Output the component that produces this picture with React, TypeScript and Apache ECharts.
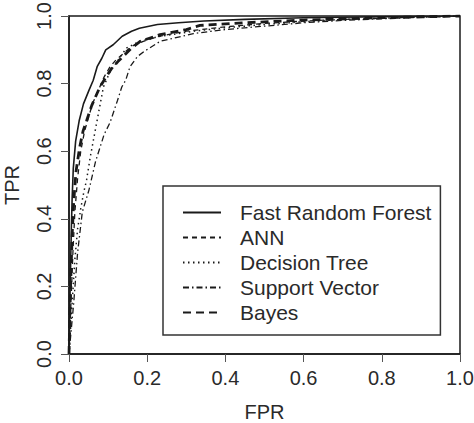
import React, { useEffect, useRef } from "react";
import * as echarts from "echarts";

const seriesNames = ["Fast Random Forest", "ANN", "Decision Tree", "Support Vector", "Bayes"];

const frfFpr = [0, 0.003, 0.006, 0.008, 0.011, 0.017, 0.026, 0.037, 0.051, 0.062, 0.072, 0.084, 0.094, 0.113, 0.136, 0.16, 0.18, 0.226, 0.28, 0.345, 0.45, 0.6, 0.8, 1];
const frfTpr = [0, 0.2, 0.37, 0.46, 0.55, 0.63, 0.69, 0.74, 0.78, 0.81, 0.85, 0.875, 0.9, 0.915, 0.94, 0.955, 0.964, 0.975, 0.98, 0.985, 0.99, 0.995, 0.998, 1];

const annFpr = [0, 0.005, 0.01, 0.015, 0.022, 0.03, 0.04, 0.05, 0.06, 0.075, 0.09, 0.105, 0.12, 0.14, 0.16, 0.19, 0.23, 0.3, 0.4, 0.5, 0.6, 0.7, 0.85, 1];
const annTpr = [0, 0.15, 0.3, 0.42, 0.52, 0.6, 0.66, 0.7, 0.74, 0.78, 0.82, 0.85, 0.87, 0.89, 0.91, 0.925, 0.94, 0.955, 0.968, 0.978, 0.985, 0.99, 0.995, 1];

const dtFpr = [0, 0.008, 0.015, 0.022, 0.03, 0.038, 0.045, 0.054, 0.062, 0.075, 0.088, 0.105, 0.126, 0.147, 0.18, 0.233, 0.318, 0.4, 0.5, 0.6, 0.7, 0.85, 1];
const dtTpr = [0, 0.15, 0.28, 0.37, 0.43, 0.48, 0.515, 0.58, 0.63, 0.71, 0.79, 0.835, 0.87, 0.905, 0.925, 0.94, 0.955, 0.965, 0.975, 0.983, 0.99, 0.995, 1];

const svFpr = [0, 0.012, 0.022, 0.034, 0.051, 0.068, 0.079, 0.09, 0.105, 0.124, 0.135, 0.145, 0.156, 0.175, 0.192, 0.233, 0.318, 0.4, 0.5, 0.6, 0.7, 0.85, 1];
const svTpr = [0, 0.15, 0.3, 0.42, 0.485, 0.57, 0.61, 0.65, 0.685, 0.75, 0.79, 0.81, 0.85, 0.88, 0.895, 0.925, 0.948, 0.96, 0.97, 0.98, 0.987, 0.994, 1];

const bayesFpr = [0, 0.004, 0.008, 0.012, 0.018, 0.027, 0.036, 0.045, 0.058, 0.079, 0.095, 0.109, 0.125, 0.138, 0.16, 0.182, 0.233, 0.3, 0.335, 0.45, 0.6, 0.8, 1];
const bayesTpr = [0, 0.2, 0.35, 0.45, 0.54, 0.61, 0.66, 0.69, 0.735, 0.79, 0.82, 0.845, 0.865, 0.88, 0.905, 0.925, 0.945, 0.96, 0.972, 0.98, 0.988, 0.995, 1];

const tickLabels = ["0.0", "0.2", "0.4", "0.6", "0.8", "1.0"];

const zip = (xs: number[], ys: number[]) => xs.map((x, i) => [x, ys[i]]);

export default function App() {
  const ref = useRef<HTMLDivElement>(null);
  useEffect(() => {
    if (!ref.current) return;
    const chart = echarts.init(ref.current, undefined, { renderer: "svg" });
    const font = "Liberation Sans, Arial, sans-serif";
    const ink = "#1a1a1a";
    const textCol = "#2a2a2a";
    const styles: any[] = [
      { width: 1.6, type: "solid" },
      { width: 1.3, type: [5, 4] },
      { width: 1.5, type: [1.5, 3.5] },
      { width: 1.3, type: [6, 3, 1.5, 3] },
      { width: 2.8, type: [8, 5] },
    ];
    const data = [
      zip(frfFpr, frfTpr),
      zip(annFpr, annTpr),
      zip(dtFpr, dtTpr),
      zip(svFpr, svTpr),
      zip(bayesFpr, bayesTpr),
    ];
    const fmt = (v: number) => tickLabels[Math.round(v * 5)] ?? "";
    chart.setOption({
      animation: false,
      backgroundColor: "#fff",
      grid: {
        left: 69,
        right: 14,
        top: 16,
        bottom: 69,
        show: true,
        borderColor: ink,
        borderWidth: 1.5,
        containLabel: false,
        outerBoundsMode: "none",
      },
      legend: {
        orient: "vertical",
        left: 163,
        top: 186,
        data: seriesNames,
        itemWidth: 38,
        itemHeight: 14,
        itemGap: 4,
        padding: [16, 9, 12, 19],
        borderColor: "#333",
        borderWidth: 1.5,
        itemStyle: { color: "rgba(0,0,0,0)", borderWidth: 0, opacity: 0 },
        textStyle: {
          fontFamily: font,
          fontSize: 21,
          color: textCol,
          lineHeight: 20,
          padding: [0, 0, 0, 14],
        },
      },
      xAxis: {
        type: "value",
        min: 0,
        max: 1,
        interval: 0.2,
        name: "FPR",
        nameLocation: "middle",
        nameGap: 48,
        nameTextStyle: { fontFamily: font, fontSize: 20, color: textCol },
        axisLine: { show: true, lineStyle: { color: ink, width: 1.5 } },
        axisTick: { show: true, length: 8, lineStyle: { color: "#555", width: 1 } },
        axisLabel: { fontFamily: font, fontSize: 20, color: textCol, margin: 14, formatter: fmt },
        splitLine: { show: false },
      },
      yAxis: {
        type: "value",
        min: 0,
        max: 1,
        interval: 0.2,
        name: "TPR",
        nameLocation: "middle",
        nameGap: 47,
        nameTextStyle: { fontFamily: font, fontSize: 20, color: textCol },
        axisLine: { show: true, lineStyle: { color: ink, width: 1.5 } },
        axisTick: { show: true, length: 8, lineStyle: { color: "#555", width: 1 } },
        axisLabel: { fontFamily: font, fontSize: 20, color: textCol, margin: 15, rotate: 90, formatter: fmt },
        splitLine: { show: false },
      },
      series: seriesNames.map((name, i) => ({
        name,
        type: "line",
        data: data[i],
        symbol: "none",
        smooth: false,
        lineStyle: { color: ink, ...styles[i] },
        itemStyle: { color: "rgba(0,0,0,0)", borderWidth: 0 },
        z: 5 - i,
      })),
    });
    return () => chart.dispose();
  }, []);
  return (
    <div
      ref={ref}
      style={{ position: "fixed", left: 0, top: 0, width: 474, height: 423 }}
    />
  );
}
